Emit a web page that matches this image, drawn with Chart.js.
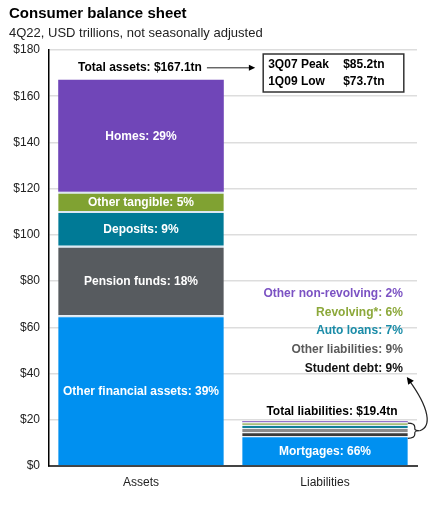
<!DOCTYPE html>
<html>
<head>
<meta charset="utf-8">
<script src="https://cdn.jsdelivr.net/npm/chart.js@4"></script>
<style>
  html, body { margin: 0; padding: 0; background: #fff; }
  #wrap { width: 433px; height: 506px; }
</style>
</head>
<body>
<div id="wrap"><canvas id="bs"></canvas></div>
<script>
// 4Q22 consumer balance sheet, USD trillions
const categories = ["Assets", "Liabilities"];

const assetNames  = ["Other financial assets", "Pension funds", "Deposits", "Other tangible", "Homes"];
const assetValues = [65.2, 30.1, 15.0, 8.4, 48.4];
const assetShares = [39, 18, 9, 5, 29];

const liabNames  = ["Mortgages", "Student debt", "Other liabilities", "Auto loans", "Revolving*", "Other non-revolving"];
const liabValues = [12.85, 1.78, 1.76, 1.38, 1.18, 0.45];
const liabShares = [66, 9, 9, 7, 6, 2];

const yTicks = [0, 20, 40, 60, 80, 100, 120, 140, 160, 180];

const peakRows = [["3Q07 Peak", "$85.2tn"], ["1Q09 Low", "$73.7tn"]];

const assetColors = ["#0090f0", "#575b5f", "#007a96", "#80a232", "#7046b8"];
const liabColors  = ["#0090f0", "#3b3b3b", "#8c8c8c", "#0f8098", "#a9bf7a", "#7046b8"];
const liabTextColors = [null, "#111111", "#5a5a5a", "#1a8ca8", "#8ca83a", "#7b52c3"];

const FONT = "'Liberation Sans', Arial, sans-serif";

const datasets = [];
assetNames.forEach((n, i) => datasets.push({
  label: n, data: [assetValues[i], null], share: assetShares[i], col: 0, idx: i,
  backgroundColor: assetColors[i], borderColor: "#dbe8f2",
  borderWidth: { top: i === assetNames.length - 1 ? 0 : 2, bottom: 0, left: 0, right: 0 },
  borderSkipped: false
}));
liabNames.forEach((n, i) => datasets.push({
  label: n, data: [null, liabValues[i]], share: liabShares[i], col: 1, idx: i,
  backgroundColor: liabColors[i], borderColor: "#e6eef4",
  borderWidth: { top: i === liabNames.length - 1 ? 0 : 1, bottom: 0, left: 0, right: 0 },
  borderSkipped: false
}));

function arrowHead(ctx, x, y, ang, len) {
  ctx.beginPath();
  ctx.moveTo(x, y);
  ctx.lineTo(x - len * Math.cos(ang - 0.45), y - len * Math.sin(ang - 0.45));
  ctx.lineTo(x - len * Math.cos(ang + 0.45), y - len * Math.sin(ang + 0.45));
  ctx.closePath();
  ctx.fill();
}

const notes = {
  id: "notes",
  afterDatasetsDraw(chart) {
    const ctx = chart.ctx;
    const ys = chart.scales.y;
    const area = chart.chartArea;
    ctx.save();
    ctx.textBaseline = "middle";

    // titles
    ctx.fillStyle = "#000";
    ctx.textAlign = "left";
    ctx.font = "bold 15px " + FONT;
    ctx.fillText("Consumer balance sheet", 9, 14);
    ctx.fillStyle = "#222";
    ctx.font = "13px " + FONT;
    ctx.fillText("4Q22, USD trillions, not seasonally adjusted", 9, 33);

    // labels inside bars
    ctx.font = "bold 12px " + FONT;
    ctx.textAlign = "center";
    ctx.fillStyle = "#fff";
    chart.data.datasets.forEach((ds, i) => {
      if (ds.col === 1 && ds.idx > 0) return;
      const el = chart.getDatasetMeta(i).data[ds.col];
      ctx.fillText(ds.label + ": " + ds.share + "%", el.x, (el.y + el.base) / 2 + 1);
    });

    // liabilities side labels
    const metaTop = (col, n) => chart.getDatasetMeta(col === 0 ? n : assetNames.length + n).data[col];
    const lb = metaTop(1, 0);
    const lRight = lb.x + lb.width / 2;
    const sideVals = [42.0, 50.2, 58.4, 66.3, 74.5];
    ctx.textAlign = "right";
    for (let k = 1; k < liabNames.length; k++) {
      ctx.fillStyle = liabTextColors[k];
      ctx.fillText(liabNames[k] + ": " + liabShares[k] + "%", lRight - 5, ys.getPixelForValue(sideVals[k - 1]));
    }

    // totals
    const aTop = metaTop(0, assetNames.length - 1);
    const lTop = metaTop(1, liabNames.length - 1);
    const totA = assetValues.reduce((a, b) => a + b, 0);
    const totL = liabValues.reduce((a, b) => a + b, 0);
    ctx.fillStyle = "#000";
    ctx.textAlign = "center";
    const ta = "Total assets: $" + totA.toFixed(1) + "tn";
    const taY = aTop.y - 12;
    ctx.fillText(ta, aTop.x - 1, taY);
    ctx.fillText("Total liabilities: $" + totL.toFixed(1) + "tn", lTop.x + 7, lTop.y - 9);

    // arrow to peak box
    const taEnd = aTop.x - 1 + ctx.measureText(ta).width / 2 + 5;
    const boxL = lb.x - lb.width / 2 + 21, boxR = lRight - 4;
    ctx.strokeStyle = "#222";
    ctx.lineWidth = 1;
    ctx.beginPath();
    ctx.moveTo(taEnd, taY);
    ctx.lineTo(boxL - 12, taY);
    ctx.stroke();
    ctx.fillStyle = "#000";
    arrowHead(ctx, boxL - 8, taY, 0, 7);

    // peak box
    const boxT = area.top + 4, boxB = area.top + 42;
    ctx.fillStyle = "#fff";
    ctx.fillRect(boxL, boxT, boxR - boxL, boxB - boxT);
    ctx.strokeStyle = "#333";
    ctx.lineWidth = 1.5;
    ctx.strokeRect(boxL, boxT, boxR - boxL, boxB - boxT);
    ctx.fillStyle = "#000";
    ctx.textAlign = "left";
    peakRows.forEach((r, k) => {
      const ry = boxT + 11 + k * 17;
      ctx.fillText(r[0], boxL + 5, ry);
      ctx.fillText(r[1], boxL + 80, ry);
    });

    // bracket round the thin liability layers
    const brT = lTop.y + 2, brB = lb.y + 2, bx = lRight;
    const mid = (brT + brB) / 2;
    ctx.strokeStyle = "#222";
    ctx.lineWidth = 1.2;
    ctx.beginPath();
    ctx.moveTo(bx, brT);
    ctx.quadraticCurveTo(bx + 7, brT, bx + 7, brT + 4);
    ctx.lineTo(bx + 7, mid - 2);
    ctx.quadraticCurveTo(bx + 7, mid, bx + 12, mid);
    ctx.quadraticCurveTo(bx + 7, mid, bx + 7, mid + 2);
    ctx.lineTo(bx + 7, brB - 4);
    ctx.quadraticCurveTo(bx + 7, brB, bx, brB);
    ctx.stroke();

    // curved arrow up to the side labels
    const ex = lRight - 1, ey = ys.getPixelForValue(sideVals[0]) + 8;
    ctx.beginPath();
    ctx.moveTo(bx + 12, mid);
    ctx.bezierCurveTo(bx + 24, mid - 4, bx + 22, mid - 22, ex + 2, ey + 3);
    ctx.stroke();
    ctx.fillStyle = "#000";
    arrowHead(ctx, ex, ey, Math.atan2(ey - (mid - 22), ex - (bx + 22)), 8);

    ctx.restore();
  }
};

new Chart(document.getElementById("bs"), {
  type: "bar",
  data: { labels: categories, datasets: datasets },
  plugins: [notes],
  options: {
    responsive: true,
    maintainAspectRatio: false,
    animation: false,
    layout: { padding: { top: 50, right: 16, bottom: 0, left: 0 } },
    datasets: { bar: { barPercentage: 0.9, categoryPercentage: 1.0 } },
    plugins: {
      legend: { display: false },
      title: { display: false },
      tooltip: { enabled: false }
    },
    scales: {
      x: {
        stacked: true,
        grid: { display: false },
        border: { display: true, color: "#444", width: 2 },
        ticks: { color: "#222", padding: 1, font: { family: FONT, size: 12 } },
        afterFit(s) { s.height = 40; }
      },
      y: {
        stacked: true,
        min: 0,
        max: yTicks[yTicks.length - 1],
        afterBuildTicks(s) { s.ticks = yTicks.map(v => ({ value: v })); },
        grid: { color: "#dddddd", lineWidth: 1.5, drawTicks: false },
        border: { display: true, color: "#000", width: 1.5 },
        ticks: {
          color: "#222", padding: 9, font: { family: FONT, size: 12 },
          callback: v => "$" + v
        },
        afterFit(s) { s.width = 49; }
      }
    }
  }
});
</script>
</body>
</html>
